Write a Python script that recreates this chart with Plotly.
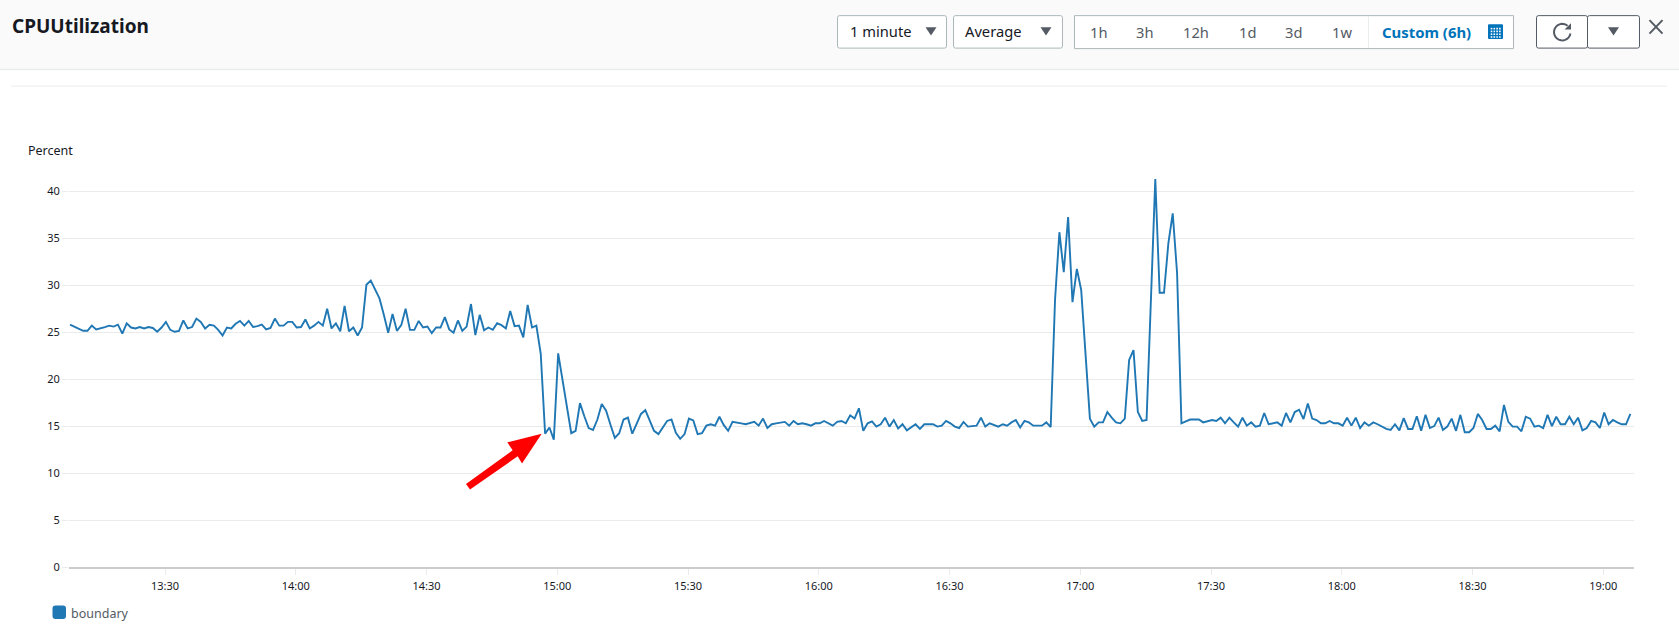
import numpy as np
import pandas as pd
import plotly.graph_objects as go

# %%
start_time = "2021-03-01 13:08:12"
cpu_percent = [
    25.8, 25.6, 25.35, 25.15, 25.15, 25.7, 25.3, 25.4, 25.55, 25.7,
    25.6, 25.8, 24.85, 25.95, 25.5, 25.4, 25.55, 25.4, 25.55, 25.45,
    25.05, 25.5, 26.1, 25.25, 25.05, 25.15, 26.25, 25.4, 25.55, 26.45,
    26.1, 25.4, 25.8, 25.7, 25.25, 24.65, 25.5, 25.4, 25.9, 26.2,
    25.7, 26.2, 25.55, 25.65, 25.8, 25.3, 25.45, 26.45, 25.7, 25.7,
    26.1, 26.1, 25.5, 25.55, 26.35, 25.4, 25.7, 26.1, 25.7, 27.5,
    25.4, 25.95, 25.1, 27.8, 25.1, 25.5, 24.65, 25.5, 30.05, 30.5,
    29.6, 28.6, 26.85, 24.95, 26.95, 25.15, 25.75, 27.5, 25.25, 25.25,
    26.2, 25.5, 25.6, 24.9, 25.5, 25.5, 26.6, 25.3, 24.95, 26.25,
    25.15, 25.6, 28.0, 24.7, 26.85, 25.2, 25.5, 25.25, 25.95, 25.75,
    25.4, 27.25, 25.65, 25.7, 24.45, 27.9, 25.5, 25.7, 22.7, 14.2,
    14.85, 13.55, 22.75, 19.9, 17.1, 14.25, 14.5, 17.45, 16.05, 14.8,
    14.6, 15.7, 17.35, 16.65, 15.15, 13.75, 14.25, 15.7, 15.9, 14.2,
    15.25, 16.3, 16.7, 15.55, 14.5, 14.15, 14.85, 15.55, 15.7, 14.3,
    13.65, 14.15, 15.8, 15.6, 14.15, 14.25, 15.05, 15.2, 15.05, 16.0,
    15.1, 14.5, 15.45, 15.4, 15.3, 15.2, 15.3, 15.45, 15.05, 15.8,
    14.8, 15.2, 15.3, 15.35, 15.45, 15.05, 15.55, 15.2, 15.3, 15.2,
    15.05, 15.3, 15.3, 15.55, 15.3, 15.05, 15.45, 15.55, 15.3, 16.15,
    15.8, 16.9, 14.5, 15.3, 15.5, 14.95, 15.2, 15.9, 14.95, 15.65,
    14.75, 15.2, 14.55, 14.85, 15.2, 14.7, 15.2, 15.2, 15.2, 14.95,
    15.05, 15.55, 15.3, 14.95, 14.8, 15.45, 14.95, 15.0, 15.05, 15.9,
    14.95, 15.3, 15.15, 14.95, 15.2, 15.05, 15.4, 15.65, 14.85, 15.55,
    15.4, 15.05, 15.05, 15.05, 15.4, 14.9, 28.45, 35.65, 31.4, 37.25,
    28.2, 31.75, 29.5, 22.75, 15.8, 14.95, 15.4, 15.4, 16.5, 15.9,
    15.4, 15.3, 15.8, 22.05, 23.1, 16.5, 15.55, 15.65, 28.1, 41.3,
    29.2, 29.2, 34.45, 37.65, 31.3, 15.3, 15.5, 15.7, 15.7, 15.7,
    15.4, 15.55, 15.65, 15.55, 15.9, 15.3, 15.9, 15.4, 14.95, 15.9,
    15.05, 15.4, 14.95, 15.05, 16.4, 15.2, 15.3, 15.4, 15.05, 16.4,
    15.4, 16.5, 16.75, 15.75, 17.4, 15.8, 15.65, 15.3, 15.3, 15.55,
    15.3, 15.3, 15.05, 15.9, 15.05, 15.9, 14.8, 15.4, 15.05, 15.4,
    15.2, 14.95, 14.7, 14.6, 15.2, 14.55, 15.85, 14.7, 14.7, 16.05,
    14.5, 16.2, 14.8, 15.0, 15.9, 14.6, 14.95, 15.8, 14.5, 16.2,
    14.35, 14.35, 14.8, 16.3, 15.65, 14.7, 14.7, 15.05, 14.45, 17.25,
    15.45, 14.95, 14.95, 14.45, 16.0, 15.8, 14.95, 15.05, 14.8, 16.2,
    15.0, 16.0, 15.2, 15.2, 16.0, 15.2, 15.9, 14.55, 14.8, 15.55,
    15.4, 14.8, 16.45, 15.2, 15.65, 15.4, 15.2, 15.2, 16.3,
]
x_tick_labels = ["13:30", "14:00", "14:30", "15:00", "15:30", "16:00",
                 "16:30", "17:00", "17:30", "18:00", "18:30", "19:00"]
y_ticks = [0, 5, 10, 15, 20, 25, 30, 35, 40]
range_buttons = ["1h", "3h", "12h", "1d", "3d", "1w"]

# %%
WIDTH, HEIGHT = 1679, 633
PLOT_L, PLOT_R, PLOT_T, PLOT_B = 69, 1634, 135, 567.5
FONT = "Noto Sans"
LINE_BLUE = "#1f77b4"
LINK_BLUE = "#0073bb"
DARK = "#16191f"
GREY = "#545b64"
GRID = "#eaeaea"


def px(x):
    return (x - PLOT_L) / (PLOT_R - PLOT_L)


def py(y):
    return (PLOT_B - y) / (PLOT_B - PLOT_T)


def poly_path(points, close=True):
    path = "M " + " L ".join(f"{px(x):.5f} {py(y):.5f}" for x, y in points)
    return path + (" Z" if close else "")


def round_rect(x0, y0, x1, y1, r=2):
    pts = [("M", x0 + r, y0), ("L", x1 - r, y0), ("Q", x1, y0, x1, y0 + r),
           ("L", x1, y1 - r), ("Q", x1, y1, x1 - r, y1), ("L", x0 + r, y1),
           ("Q", x0, y1, x0, y1 - r), ("L", x0, y0 + r), ("Q", x0, y0, x0 + r, y0)]
    out = []
    for p in pts:
        coords = [f"{px(p[i]):.5f} {py(p[i + 1]):.5f}" for i in range(1, len(p), 2)]
        out.append(p[0] + " " + " ".join(coords))
    return " ".join(out) + " Z"


shapes = []
annotations = []


def add_box(x0, y0, x1, y1, line=None, fill=None, r=2, width=1):
    shapes.append(dict(type="path", path=round_rect(x0, y0, x1, y1, r), xref="paper", yref="paper",
                       line=dict(color=line or "rgba(0,0,0,0)", width=width if line else 0),
                       fillcolor=fill or "rgba(0,0,0,0)", layer="above"))


def add_poly(points, fill=None, line=None, width=1, close=True):
    shapes.append(dict(type="path", path=poly_path(points, close), xref="paper", yref="paper",
                       line=dict(color=line or "rgba(0,0,0,0)", width=width if line else 0),
                       fillcolor=fill or "rgba(0,0,0,0)", layer="above"))


def add_text(x, y, text, size=14, color=DARK, anchor="left", bold=False):
    # annotations carry a little padding, so pull left aligned text back onto its x
    xshift = -2 if anchor == "left" else 0
    annotations.append(dict(x=px(x), y=py(y), xref="paper", yref="paper", text=f"<b>{text}</b>" if bold else text,
                            showarrow=False, xanchor=anchor, yanchor="middle", xshift=xshift, yshift=1,
                            font=dict(family=FONT, size=size, color=color)))


# header strip
shapes.append(dict(type="rect", x0=px(0), x1=px(WIDTH), y0=py(0), y1=py(69), xref="paper", yref="paper",
                   fillcolor="#fafafa", line_width=0, layer="above"))
shapes.append(dict(type="line", x0=px(0), x1=px(WIDTH), y0=py(69.5), y1=py(69.5), xref="paper", yref="paper",
                   line=dict(color="#eaeded", width=1.5), layer="above"))
shapes.append(dict(type="line", x0=px(11), x1=px(1667), y0=py(86), y1=py(86), xref="paper", yref="paper",
                   line=dict(color="#eaeded", width=1), layer="above"))
add_text(11.5, 27, "CPUUtilization", size=19, bold=True)

# period + statistic dropdowns
add_box(837.5, 15.5, 946.5, 48, line="#aab7b8", fill="#ffffff")
add_text(849.5, 32, "1 minute", size=14.7)
add_poly([(925.5, 27), (936.5, 27), (931, 35.5)], fill=GREY)
add_box(953.5, 15.5, 1062.5, 48, line="#aab7b8", fill="#ffffff")
add_text(965, 32, "Average", size=14.7)
add_poly([(1040.5, 27), (1051.5, 27), (1046, 35.5)], fill=GREY)

# time range picker
add_box(1074.5, 15.5, 1513.5, 48.5, line="#aab7b8", fill="#ffffff", r=0)
for label, cx in zip(range_buttons, [1098, 1144, 1196, 1247, 1293, 1342]):
    add_text(cx, 33, label, size=14.7, color=GREY, anchor="center")
shapes.append(dict(type="line", x0=px(1368.5), x1=px(1368.5), y0=py(16), y1=py(48), xref="paper", yref="paper",
                   line=dict(color="#eaeded", width=1), layer="above"))
add_text(1426.5, 33, "Custom (6h)", size=14.9, color=LINK_BLUE, anchor="center", bold=True)
add_box(1488, 24, 1503, 39, fill=LINK_BLUE, r=1)
for row in range(4):
    for col in range(4):
        cx, cy = 1491.5 + col * 2.8, 28.5 + row * 2.8
        add_poly([(cx - 0.8, cy - 0.8), (cx + 0.8, cy - 0.8), (cx + 0.8, cy + 0.8), (cx - 0.8, cy + 0.8)],
                 fill="#ffffff")

# refresh + dropdown + close
add_box(1536.5, 15.5, 1587.5, 48, line=GREY, fill="#ffffff")
add_box(1587.5, 15.5, 1639.5, 48, line=GREY, fill="#ffffff")
# arc runs from the right, round the bottom and left, up to the upper right
angles = np.radians(np.arange(10, 311, 15))
arc = [(1562.3 + 8.3 * np.cos(a), 32 + 8.3 * np.sin(a)) for a in angles]
add_poly(arc, line=GREY, width=2, close=False)
add_poly([(1571, 23), (1571, 29.5), (1564.5, 29.5)], fill=GREY)
add_poly([(1608, 27), (1619, 27), (1613.5, 35.5)], fill=GREY)
add_poly([(1649.5, 20), (1662.5, 33.5)], line=GREY, width=2, close=False)
add_poly([(1662.5, 20), (1649.5, 33.5)], line=GREY, width=2, close=False)

# red arrow pasted on the screenshot
add_poly([(466, 484.3), (470, 490), (517.7, 456.7), (522, 464), (541.7, 434), (507.3, 442.7), (512.7, 450.7)],
         fill="#ff0000")

# unit + legend
add_text(28, 152, "Percent", size=12.5, color=DARK)
add_box(52.5, 606, 66, 619.5, fill=LINE_BLUE, r=3)
add_text(70.5, 615, "boundary", size=12.5, color=GREY)

# %%
times = pd.date_range(start_time, periods=len(cpu_percent), freq="min")
day = start_time[:10]
x_ticks = [f"{day} {t}:00" for t in x_tick_labels]

fig = go.Figure()
fig.add_trace(go.Scatter(x=times, y=cpu_percent, mode="lines", name="boundary",
                         line=dict(color=LINE_BLUE, width=1.9), hoverinfo="skip"))

fig.update_layout(
    width=WIDTH, height=HEIGHT,
    margin=dict(l=PLOT_L, r=WIDTH - PLOT_R, t=PLOT_T, b=HEIGHT - PLOT_B, pad=0),
    paper_bgcolor="#ffffff", plot_bgcolor="#ffffff",
    showlegend=False,
    font=dict(family=FONT, size=11, color=DARK),
    shapes=shapes, annotations=annotations,
)
fig.update_xaxes(
    range=[f"{day} 13:07:58", f"{day} 19:07:02"],
    tickvals=x_ticks, ticktext=x_tick_labels,
    showgrid=False, zeroline=False,
    showline=True, linecolor="#cccccc", linewidth=1.5,
    ticks="outside", ticklen=6, tickwidth=1, tickcolor=GRID,
    ticklabelstandoff=2, tickfont=dict(size=11, color=DARK),
)
fig.update_yaxes(
    range=[0, 46], tickvals=y_ticks,
    showgrid=True, gridcolor=GRID, gridwidth=1, zeroline=False, showline=False,
    ticks="outside", ticklen=6, tickwidth=1, tickcolor=GRID,
    tickfont=dict(size=11, color=DARK),
)

fig.write_html("out.html", config=dict(displayModeBar=False),
               post_script="document.body.style.margin='0';")
